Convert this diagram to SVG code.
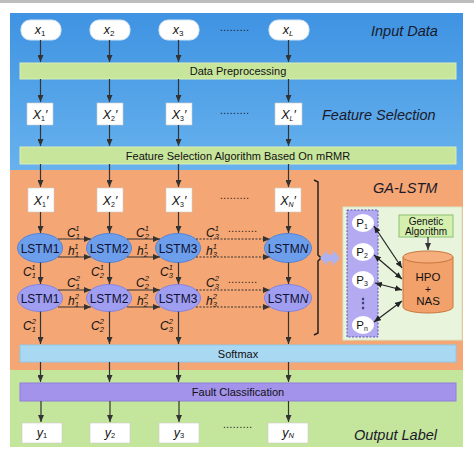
<svg xmlns="http://www.w3.org/2000/svg" width="474" height="467" viewBox="0 0 474 467">
<defs>
<linearGradient id="blueGrad" x1="0" y1="0" x2="0" y2="1">
<stop offset="0" stop-color="#3f93e2"/>
<stop offset="1" stop-color="#67b2ee"/>
</linearGradient>
<marker id="arr" markerWidth="7" markerHeight="6" refX="7" refY="3" orient="auto" markerUnits="userSpaceOnUse">
<path d="M0,0 L7,3 L0,6 z" fill="#333"/>
</marker>
<marker id="arrB" markerWidth="7" markerHeight="6" refX="7" refY="3" orient="auto-start-reverse" markerUnits="userSpaceOnUse">
<path d="M0,0 L7,3 L0,6 z" fill="#222"/>
</marker>
</defs>
<style>
text{font-family:"Liberation Sans",Arial,sans-serif;fill:#111;}
.lbl{font-size:14.5px;font-style:italic;fill:#1a1a2a;}
.bar{font-size:11px;text-anchor:middle;}
.in{fill:#fff;stroke:#d8e6f2;stroke-width:1;}
.box{fill:#fff;stroke:#ccc;stroke-width:0.6;}
.var{font-size:12.5px;font-style:italic;text-anchor:middle;}
.lstm{font-size:12px;text-anchor:middle;fill:#101030;}
.l1{fill:#6c9eec;stroke:#5584d6;stroke-width:1;}
.l2{fill:#a09ef0;stroke:#8684de;stroke-width:1;}
.st{font-size:12px;font-style:italic;}
.dots{font-size:10px;letter-spacing:0.5px;}
.con line,.con path{stroke:#333;stroke-width:1.2;fill:none;}
.dash{stroke-dasharray:2,1.5;}
</style>

<!-- backgrounds -->
<rect x="0" y="0" width="474" height="3" fill="#bdbdbd"/>
<rect x="10" y="13" width="453" height="157" fill="url(#blueGrad)"/>
<rect x="10" y="170" width="453" height="200" fill="#f4a674"/>
<rect x="10" y="370" width="453" height="77" fill="#c4e59c"/>

<text class="lbl" x="371" y="36">Input Data</text>
<text class="lbl" x="322" y="120">Feature Selection</text>
<text class="lbl" x="373" y="193">GA-LSTM</text>
<text class="lbl" x="354" y="440">Output Label</text>

<!-- Input nodes -->
<g id="x1"><rect class="in" x="21" y="20" width="40" height="20" rx="9"/><text class="var" x="40" y="34" font-size="11.5">x<tspan font-size="8" dy="2" font-style="normal">1</tspan></text></g>
<g id="x2"><rect class="in" x="90" y="20" width="40" height="20" rx="9"/><text class="var" x="109" y="34" font-size="11.5">x<tspan font-size="8" dy="2" font-style="normal">2</tspan></text></g>
<g id="x3"><rect class="in" x="159" y="20" width="40" height="20" rx="9"/><text class="var" x="178" y="34" font-size="11.5">x<tspan font-size="8" dy="2" font-style="normal">3</tspan></text></g>
<g id="xL"><rect class="in" x="269" y="20" width="40" height="20" rx="9"/><text class="var" x="288" y="34" font-size="11.5">x<tspan font-size="8" dy="2">L</tspan></text></g>
<text class="dots" x="220" y="31">.........</text>

<!-- Data Preprocessing -->
<g id="dataPre"><rect x="20" y="63" width="436" height="16" fill="#c8e59c" stroke="#d9eeb6" stroke-width="1"/><text class="bar" x="238" y="75">Data Preprocessing</text></g>

<!-- feature boxes -->
<g id="fx1"><rect class="box" x="27" y="103" width="26" height="22"/><text class="var" x="40" y="119">X<tspan font-size="7" dy="2" font-style="normal">1</tspan><tspan dy="-2">′</tspan></text></g>
<g id="fx2"><rect class="box" x="97" y="103" width="26" height="22"/><text class="var" x="110" y="119">X<tspan font-size="7" dy="2" font-style="normal">2</tspan><tspan dy="-2">′</tspan></text></g>
<g id="fx3"><rect class="box" x="166" y="103" width="26" height="22"/><text class="var" x="179" y="119">X<tspan font-size="7" dy="2" font-style="normal">3</tspan><tspan dy="-2">′</tspan></text></g>
<g id="fxL"><rect class="box" x="275" y="103" width="27" height="22"/><text class="var" x="288.5" y="119">X<tspan font-size="7" dy="2">L</tspan><tspan dy="-2">′</tspan></text></g>
<text class="dots" x="220" y="114">.........</text>

<!-- Feature Selection Algorithm -->
<g id="fsAlg"><rect x="20" y="147" width="436" height="17" fill="#c8e59c" stroke="#d9eeb6" stroke-width="1"/><text class="bar" x="238" y="159.5">Feature Selection Algorithm Based On mRMR</text></g>

<!-- LSTM inputs -->
<g id="ix1"><rect class="box" x="28" y="188" width="26" height="24"/><text class="var" x="41" y="205">X<tspan font-size="7" dy="2" font-style="normal">1</tspan><tspan dy="-2">′</tspan></text></g>
<g id="ix2"><rect class="box" x="97" y="188" width="26" height="24"/><text class="var" x="110" y="205">X<tspan font-size="7" dy="2" font-style="normal">2</tspan><tspan dy="-2">′</tspan></text></g>
<g id="ix3"><rect class="box" x="166" y="188" width="26" height="24"/><text class="var" x="179" y="205">X<tspan font-size="7" dy="2" font-style="normal">3</tspan><tspan dy="-2">′</tspan></text></g>
<g id="ixN"><rect class="box" x="275" y="188" width="26" height="24"/><text class="var" x="288" y="205">X<tspan font-size="7" dy="2">N</tspan><tspan dy="-2">′</tspan></text></g>
<text class="dots" x="220" y="199">.........</text>

<!-- LSTM row 1 -->
<g id="lstm11"><ellipse class="l1" cx="40" cy="248" rx="22.5" ry="14.5"/><text class="lstm" x="40" y="252.5">LSTM1</text></g>
<g id="lstm12"><ellipse class="l1" cx="109" cy="248" rx="22.5" ry="14.5"/><text class="lstm" x="109" y="252.5">LSTM2</text></g>
<g id="lstm13"><ellipse class="l1" cx="178" cy="248" rx="22.5" ry="14.5"/><text class="lstm" x="178" y="252.5">LSTM3</text></g>
<g id="lstm1N"><ellipse class="l1" cx="288" cy="248" rx="23.5" ry="14.5"/><text class="lstm" x="288" y="252.5">LSTM<tspan font-style="italic">N</tspan></text></g>
<!-- LSTM row 2 -->
<g id="lstm21"><ellipse class="l2" cx="40" cy="298" rx="22.5" ry="13.5"/><text class="lstm" x="40" y="302.5">LSTM1</text></g>
<g id="lstm22"><ellipse class="l2" cx="109" cy="298" rx="22.5" ry="13.5"/><text class="lstm" x="109" y="302.5">LSTM2</text></g>
<g id="lstm23"><ellipse class="l2" cx="178" cy="298" rx="22.5" ry="13.5"/><text class="lstm" x="178" y="302.5">LSTM3</text></g>
<g id="lstm2N"><ellipse class="l2" cx="288" cy="298" rx="23.5" ry="13.5"/><text class="lstm" x="288" y="302.5">LSTM<tspan font-style="italic">N</tspan></text></g>

<!-- state labels -->
<g id="stateLabels">
<text class="st" x="67" y="237">C<tspan font-size="7.5" dy="2">1</tspan><tspan font-size="7.5" dx="-4" dy="-8">1</tspan></text>
<text class="st" x="136" y="237">C<tspan font-size="7.5" dy="2">2</tspan><tspan font-size="7.5" dx="-4" dy="-8">1</tspan></text>
<text class="st" x="206" y="237">C<tspan font-size="7.5" dy="2">3</tspan><tspan font-size="7.5" dx="-4" dy="-8">1</tspan></text>
<text class="st" x="68" y="255">h<tspan font-size="7.5" dy="2">1</tspan><tspan font-size="7.5" dx="-4" dy="-8">1</tspan></text>
<text class="st" x="137" y="255">h<tspan font-size="7.5" dy="2">2</tspan><tspan font-size="7.5" dx="-4" dy="-8">1</tspan></text>
<text class="st" x="206" y="255">h<tspan font-size="7.5" dy="2">3</tspan><tspan font-size="7.5" dx="-4" dy="-8">1</tspan></text>
<text class="st" x="23" y="276">C<tspan font-size="7.5" dy="2">1</tspan><tspan font-size="7.5" dx="-4" dy="-8">1</tspan></text>
<text class="st" x="91" y="276">C<tspan font-size="7.5" dy="2">2</tspan><tspan font-size="7.5" dx="-4" dy="-8">1</tspan></text>
<text class="st" x="160" y="276">C<tspan font-size="7.5" dy="2">3</tspan><tspan font-size="7.5" dx="-4" dy="-8">1</tspan></text>
<text class="st" x="67" y="287">C<tspan font-size="7.5" dy="2">1</tspan><tspan font-size="7.5" dx="-4" dy="-8">2</tspan></text>
<text class="st" x="136" y="287">C<tspan font-size="7.5" dy="2">2</tspan><tspan font-size="7.5" dx="-4" dy="-8">2</tspan></text>
<text class="st" x="206" y="287">C<tspan font-size="7.5" dy="2">3</tspan><tspan font-size="7.5" dx="-4" dy="-8">2</tspan></text>
<text class="st" x="68" y="305">h<tspan font-size="7.5" dy="2">1</tspan><tspan font-size="7.5" dx="-4" dy="-8">2</tspan></text>
<text class="st" x="137" y="305">h<tspan font-size="7.5" dy="2">2</tspan><tspan font-size="7.5" dx="-4" dy="-8">2</tspan></text>
<text class="st" x="206" y="305">h<tspan font-size="7.5" dy="2">3</tspan><tspan font-size="7.5" dx="-4" dy="-8">2</tspan></text>
<text class="st" x="23" y="330">C<tspan font-size="7.5" dy="2">1</tspan><tspan font-size="7.5" dx="-4" dy="-8">2</tspan></text>
<text class="st" x="91" y="330">C<tspan font-size="7.5" dy="2">2</tspan><tspan font-size="7.5" dx="-4" dy="-8">2</tspan></text>
<text class="st" x="160" y="330">C<tspan font-size="7.5" dy="2">3</tspan><tspan font-size="7.5" dx="-4" dy="-8">2</tspan></text>
<text class="dots" x="228" y="232">.........</text>
<text class="dots" x="228" y="283">.........</text>
</g>

<!-- Softmax -->
<g id="softmax"><rect x="20" y="345" width="436" height="17" fill="#a9d8f2" stroke="#8ec8ea" stroke-width="1"/><text class="bar" x="238" y="357.5">Softmax</text></g>

<!-- Fault Classification -->
<g id="fault"><rect x="20" y="383" width="436" height="18" fill="#a393ea" stroke="#8e7edc" stroke-width="1"/><text class="bar" x="238" y="396">Fault Classification</text></g>

<!-- outputs -->
<g id="y1"><rect class="box" x="22" y="423" width="40" height="20"/><text class="var" x="42" y="437" font-size="11.5">y<tspan font-size="7.5" dy="1" font-style="normal">1</tspan></text></g>
<g id="y2"><rect class="box" x="90" y="423" width="40" height="20"/><text class="var" x="110" y="437" font-size="11.5">y<tspan font-size="7.5" dy="1" font-style="normal">2</tspan></text></g>
<g id="y3"><rect class="box" x="159" y="423" width="40" height="20"/><text class="var" x="179" y="437" font-size="11.5">y<tspan font-size="7.5" dy="1" font-style="normal">3</tspan></text></g>
<g id="yN"><rect class="box" x="268" y="423" width="40" height="20"/><text class="var" x="288" y="437" font-size="11.5">y<tspan font-size="7.5" dy="1">N</tspan></text></g>
<text class="dots" x="223" y="428">.........</text>

<!-- right panel -->
<g id="gaPanel">
<rect x="343" y="207" width="119" height="133" fill="#e9f4dc" stroke="#d6e6c6" stroke-width="1"/>
<rect x="347" y="210" width="31" height="127" fill="#b3aaf2" stroke="#5c54b0" stroke-width="1" stroke-dasharray="2,1.5"/>
</g>
<g id="p1"><ellipse cx="363" cy="223" rx="11" ry="9" fill="#fff"/><text x="362" y="227" font-size="11.5" text-anchor="middle">P<tspan font-size="7" dy="2">1</tspan></text></g>
<g id="p2"><ellipse cx="363" cy="252" rx="11" ry="9" fill="#fff"/><text x="362" y="256" font-size="11.5" text-anchor="middle">P<tspan font-size="7" dy="2">2</tspan></text></g>
<g id="p3"><ellipse cx="363" cy="280" rx="11" ry="9" fill="#fff"/><text x="362" y="284" font-size="11.5" text-anchor="middle">P<tspan font-size="7" dy="2">3</tspan></text></g>
<text x="363" y="307" font-size="12" text-anchor="middle" style="fill:#2a2a60;font-weight:bold">⋮</text>
<g id="pn"><ellipse cx="363" cy="325" rx="11" ry="9" fill="#fff"/><text x="362" y="329" font-size="11.5" text-anchor="middle">P<tspan font-size="7" dy="2">n</tspan></text></g>
<g id="ga"><rect x="399" y="215" width="54" height="22" fill="#d5efaf" stroke="#8cc070" stroke-width="1"/><text x="426" y="225" font-size="10" text-anchor="middle">Genetic</text><text x="426" y="235" font-size="10" text-anchor="middle">Algorithm</text></g>
<g id="hpo">
<path d="M403,257 L403,307 A25,6 0 0 0 453,307 L453,257" fill="#f3a16b" stroke="#c8763e" stroke-width="1"/>
<ellipse cx="428" cy="257" rx="25" ry="6" fill="#f5ae7c" stroke="#c8763e" stroke-width="1"/>
<text x="428" y="281" font-size="11.5" text-anchor="middle">HPO</text>
<text x="428" y="293" font-size="10" text-anchor="middle">+</text>
<text x="428" y="305" font-size="11.5" text-anchor="middle">NAS</text>
</g>
<g id="brace"><path d="M314,180 L318,182 L318,255 L321,258 L318,261 L318,333 L314,335" fill="none" stroke="#222" stroke-width="1.5"/></g>
<g id="dblArrow"><polygon points="320,258 327,250 327,254.5 333,254.5 333,250 340,258 333,266 333,261.5 327,261.5 327,266" fill="#aeb2f0"/></g>

<!-- connectors -->
<g class="con" id="connectors">
<line x1="40.5" y1="40" x2="40.5" y2="62" marker-end="url(#arr)"/>
<line x1="109.5" y1="40" x2="109.5" y2="62" marker-end="url(#arr)"/>
<line x1="178.5" y1="40" x2="178.5" y2="62" marker-end="url(#arr)"/>
<line x1="288.5" y1="40" x2="288.5" y2="62" marker-end="url(#arr)"/>
<line x1="40.5" y1="79" x2="40.5" y2="102" marker-end="url(#arr)"/>
<line x1="109.5" y1="79" x2="109.5" y2="102" marker-end="url(#arr)"/>
<line x1="178.5" y1="79" x2="178.5" y2="102" marker-end="url(#arr)"/>
<line x1="288.5" y1="79" x2="288.5" y2="102" marker-end="url(#arr)"/>
<line x1="40.5" y1="125" x2="40.5" y2="146" marker-end="url(#arr)"/>
<line x1="109.5" y1="125" x2="109.5" y2="146" marker-end="url(#arr)"/>
<line x1="178.5" y1="125" x2="178.5" y2="146" marker-end="url(#arr)"/>
<line x1="288.5" y1="125" x2="288.5" y2="146" marker-end="url(#arr)"/>
<line x1="40.5" y1="164" x2="40.5" y2="187" marker-end="url(#arr)"/>
<line x1="109.5" y1="164" x2="109.5" y2="187" marker-end="url(#arr)"/>
<line x1="178.5" y1="164" x2="178.5" y2="187" marker-end="url(#arr)"/>
<line x1="288.5" y1="164" x2="288.5" y2="187" marker-end="url(#arr)"/>
<line x1="40.5" y1="212" x2="40.5" y2="233" marker-end="url(#arr)"/>
<line x1="109.5" y1="212" x2="109.5" y2="233" marker-end="url(#arr)"/>
<line x1="178.5" y1="212" x2="178.5" y2="233" marker-end="url(#arr)"/>
<line x1="288.5" y1="212" x2="288.5" y2="233" marker-end="url(#arr)"/>
<line x1="40.5" y1="262.5" x2="40.5" y2="284" marker-end="url(#arr)"/>
<line x1="109.5" y1="262.5" x2="109.5" y2="284" marker-end="url(#arr)"/>
<line x1="178.5" y1="262.5" x2="178.5" y2="284" marker-end="url(#arr)"/>
<line x1="288.5" y1="262.5" x2="288.5" y2="284" marker-end="url(#arr)"/>
<line x1="40.5" y1="311.5" x2="40.5" y2="344" marker-end="url(#arr)"/>
<line x1="109.5" y1="311.5" x2="109.5" y2="344" marker-end="url(#arr)"/>
<line x1="178.5" y1="311.5" x2="178.5" y2="344" marker-end="url(#arr)"/>
<line x1="288.5" y1="311.5" x2="288.5" y2="344" marker-end="url(#arr)"/>
<line x1="40.5" y1="362" x2="40.5" y2="382" marker-end="url(#arr)"/>
<line x1="109.5" y1="362" x2="109.5" y2="382" marker-end="url(#arr)"/>
<line x1="178.5" y1="362" x2="178.5" y2="382" marker-end="url(#arr)"/>
<line x1="288.5" y1="362" x2="288.5" y2="382" marker-end="url(#arr)"/>
<line x1="41" y1="401" x2="41" y2="422" marker-end="url(#arr)"/>
<line x1="110" y1="401" x2="110" y2="422" marker-end="url(#arr)"/>
<line x1="179" y1="401" x2="179" y2="422" marker-end="url(#arr)"/>
<line x1="288.5" y1="401" x2="288.5" y2="422" marker-end="url(#arr)"/>
<!-- row 1 horizontal -->
<line x1="58" y1="239" x2="91" y2="239" marker-end="url(#arr)"/>
<line x1="58" y1="257" x2="91" y2="257" marker-end="url(#arr)"/>
<line x1="127" y1="239" x2="160" y2="239" marker-end="url(#arr)"/>
<line x1="127" y1="257" x2="160" y2="257" marker-end="url(#arr)"/>
<line class="dash" x1="196" y1="239" x2="270" y2="239" marker-end="url(#arr)"/>
<line class="dash" x1="196" y1="257" x2="270" y2="257" marker-end="url(#arr)"/>
<!-- row 2 horizontal -->
<line x1="58" y1="290" x2="91" y2="290" marker-end="url(#arr)"/>
<line x1="58" y1="307" x2="91" y2="307" marker-end="url(#arr)"/>
<line x1="127" y1="290" x2="160" y2="290" marker-end="url(#arr)"/>
<line x1="127" y1="307" x2="160" y2="307" marker-end="url(#arr)"/>
<line class="dash" x1="196" y1="290" x2="270" y2="290" marker-end="url(#arr)"/>
<line class="dash" x1="196" y1="307" x2="270" y2="307" marker-end="url(#arr)"/>
<!-- GA panel -->
<line x1="428" y1="237" x2="428" y2="250" marker-end="url(#arr)"/>
<line x1="374" y1="226" x2="402" y2="268" marker-start="url(#arrB)" marker-end="url(#arrB)" style="stroke:#222"/>
<line x1="374" y1="255" x2="402" y2="279" marker-start="url(#arrB)" marker-end="url(#arrB)" style="stroke:#222"/>
<line x1="375" y1="283" x2="402" y2="290" marker-start="url(#arrB)" marker-end="url(#arrB)" style="stroke:#222"/>
<line x1="374" y1="322" x2="402" y2="301" marker-start="url(#arrB)" marker-end="url(#arrB)" style="stroke:#222"/>
</g>
</svg>
